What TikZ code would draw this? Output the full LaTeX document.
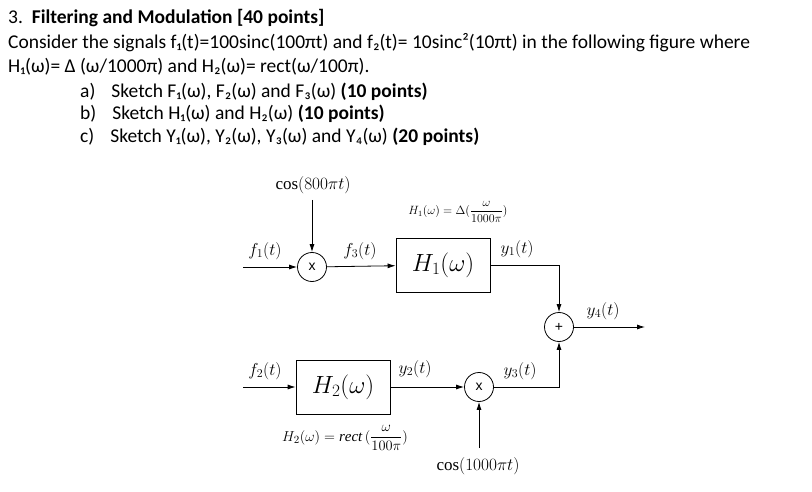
\documentclass[tikz,border=0pt]{standalone}
\usepackage{fontspec}
\setmainfont{Liberation Serif}
\newfontfamily\carfont{Carlito}
\newfontfamily\arfont{Liberation Sans}
\usetikzlibrary{arrows.meta}
\begin{document}
\begin{tikzpicture}[x=1pt,y=-1pt,
  blk/.style={draw,line width=0.8pt,minimum width=94pt,minimum height=54pt,inner sep=0pt,font=\fontsize{24}{26}\selectfont},
  mix/.style={draw,line width=0.8pt,circle,minimum size=29pt,inner sep=0pt,font=\arfont\fontsize{14}{14}\selectfont},
  arr/.style={-{Latex[length=8pt,width=5pt]},line width=0.8pt},
  lab/.style={font=\fontsize{17}{19}\selectfont},
  txt/.style={anchor=west,font=\carfont\fontsize{19.5}{22}\selectfont,inner sep=0pt}]
\useasboundingbox (0,0) rectangle (812,492);
\node[txt] (t1) at (8,18) {3.\ \ \textbf{Filtering and Modulation [40 points]}};
\node[txt] (t2) at (8,43) {Consider the signals f₁(t)=100sinc(100πt) and f₂(t)= 10sinc²(10πt) in the following figure where};
\node[txt] (t3) at (8,67) {H₁(ω)= Δ (ω/1000π) and H₂(ω)= rect(ω/100π).};
\node[txt] (t4) at (80,92) {a)\hspace{16pt}Sketch F₁(ω), F₂(ω) and F₃(ω) \textbf{(10 points)}};
\node[txt] (t5) at (80,114) {b)\hspace{16pt}Sketch H₁(ω) and H₂(ω) \textbf{(10 points)}};
\node[txt] (t6) at (80,137) {c)\hspace{16pt}Sketch Y₁(ω), Y₂(ω), Y₃(ω) and Y₄(ω) \textbf{(20 points)}};

\node[mix] (m1) at (312,267) {x};
\node[blk] (h1) at (443,265) {$H_1(\omega)$};
\node[mix] (p) at (559,327) {+};
\node[blk] (h2) at (343,387) {$H_2(\omega)$};
\node[mix] (m2) at (479,387) {x};
\coordinate (f1) at (243,267);
\coordinate (f2) at (243,387);
\coordinate (c1) at (312,200);
\coordinate (c2) at (479,448);
\coordinate (out) at (645,327);
\node[lab] (lc1) at (313,185) {$\cos(800\pi t)$};
\node[lab] (lc2) at (478,466) {$\cos(1000\pi t)$};
\node[lab] (lf1) at (265,251) {$f_1(t)$};
\node[lab] (lf2) at (265,371) {$f_2(t)$};
\node[lab] (lf3) at (360,251) {$f_3(t)$};
\node[lab] (ly1) at (517,249) {$y_1(t)$};
\node[lab] (ly2) at (415,369) {$y_2(t)$};
\node[lab] (ly3) at (520,371) {$y_3(t)$};
\node[lab] (ly4) at (603,311) {$y_4(t)$};
\node[font=\fontsize{12}{13}\selectfont] (fh1) at (458,212) {$H_1(\omega)=\Delta(\displaystyle\frac{\omega}{1000\pi})$};
\node[font=\fontsize{15}{16}\selectfont] (fh2) at (345,438) {$H_2(\omega)=\mathit{rect}\,(\displaystyle\frac{\omega}{100\pi})$};

\draw[arr] (f1) -- (m1);
\draw[arr] (c1) -- (m1);
\draw[arr] (m1) -- (h1);
\draw[arr] (h1.east) -| (p);
\draw[arr] (p) -- (out);
\draw[arr] (f2) -- (h2);
\draw[arr] (h2) -- (m2);
\draw[arr] (c2) -- (m2);
\draw[arr] (m2) -| (p);
\end{tikzpicture}
\end{document}
